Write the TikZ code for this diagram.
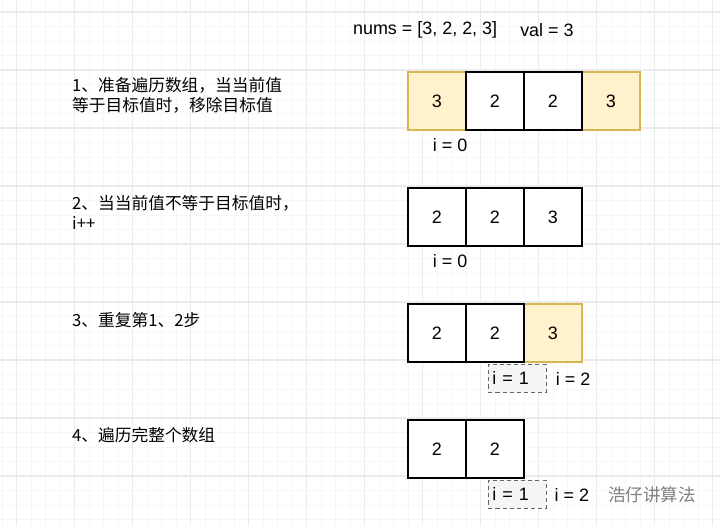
\documentclass[tikz,border=0pt]{standalone}
\usepackage{fontspec}
\setmainfont{Liberation Sans}
\newfontfamily\cjkfont{Noto Sans CJK SC}
\definecolor{cellyellow}{HTML}{FFF2CC}
\definecolor{celledge}{HTML}{D6B656}
\definecolor{ptrfill}{HTML}{F5F5F5}
\definecolor{ptredge}{HTML}{666666}
\definecolor{gridminor}{HTML}{F6F6F6}
\definecolor{gridmajor}{HTML}{EBEBEB}
\definecolor{markgray}{HTML}{808080}
\tikzset{
  % 数组单元格
  cell/.style={draw=black, line width=0.65pt, fill=white, minimum size=1cm,
    inner sep=0pt, outer sep=0pt, font=\fontsize{8.8}{10}\selectfont},
  % 目标值单元格
  target/.style={cell, draw=celledge, fill=cellyellow},
  % 下标
  idx/.style={font=\fontsize{8.8}{10}\selectfont},
  % 旧下标（虚线框）
  oldidx/.style={idx, draw=ptredge, dash pattern=on 2pt off 1.5pt, fill=ptrfill, line width=0.55pt,
    minimum height=0.48cm, text width=0.86cm, inner xsep=0.07cm, align=left},
  % 步骤说明
  stepnote/.style={anchor=west, align=left, font=\cjkfont\fontsize{8.2}{9.8}\selectfont},
}
\begin{document}
\begin{tikzpicture}
    % 背景网格
    \useasboundingbox (0,0) rectangle (12.414,-9.052);
    \fill[white] (0,0) rectangle (12.414,-9.052);
    \begin{scope}
        \clip (0,0) rectangle (12.414,-9.052);
        \draw[gridminor, line width=0.4pt, shift={(0.288,-0.207)}, step=0.25] (-1,-10) grid (13,1);
        \draw[gridmajor, line width=0.5pt, shift={(0.288,-0.207)}, step=1] (-1,-10) grid (13,1);
    \end{scope}

    % 题目
    \node[idx] (nums) at (7.33, -0.517) {nums = [3, 2, 2, 3]};
    \node[idx] (val) at (9.43, -0.517) {val = 3};

    % Step 1
    \begin{scope}[shift={(0, 0)}]
        \node[stepnote] (s1) at (1.12, -1.64) {1、准备遍历数组，当当前值\\等于目标值时，移除目标值};
        \node[target] (a1) at (7.534, -1.741) {3};
        \node[target] (d1) at (10.534, -1.741) {3};
        \node[cell] (b1) at (8.534, -1.741) {2};
        \node[cell] (c1) at (9.534, -1.741) {2};
        \node[idx] (i1) at (7.76, -2.51) {i = 0};
    \end{scope}

    % Step 2
    \begin{scope}[shift={(0, -2)}]
        \node[stepnote] (s2) at (1.12, -1.66) {2、当当前值不等于目标值时，\\i++};
        \node[cell] (a2) at (7.534, -1.741) {2};
        \node[cell] (b2) at (8.534, -1.741) {2};
        \node[cell] (c2) at (9.534, -1.741) {3};
        \node[idx] (i2) at (7.76, -2.51) {i = 0};
    \end{scope}

    % Step 3
    \begin{scope}[shift={(0, -4)}]
        \node[stepnote] (s3) at (1.12, -1.52) {3、重复第1、2步};
        \node[target] (c3) at (9.534, -1.741) {3};
        \node[cell] (a3) at (7.534, -1.741) {2};
        \node[cell] (b3) at (8.534, -1.741) {2};
        \node[oldidx] (p3) at (8.92, -2.52) {i = 1};
        \node[idx] (i3) at (9.88, -2.54) {i = 2};
    \end{scope}

    % Step 4
    \begin{scope}[shift={(0, -6)}]
        \node[stepnote] (s4) at (1.12, -1.5) {4、遍历完整个数组};
        \node[cell] (a4) at (7.534, -1.741) {2};
        \node[cell] (b4) at (8.534, -1.741) {2};
        \node[oldidx] (p4) at (8.92, -2.52) {i = 1};
        \node[idx] (i4) at (9.86, -2.53) {i = 2};
    \end{scope}

    % 水印
    \node[font=\cjkfont\fontsize{8.6}{10}\selectfont, text=markgray] (mark) at (11.24, -8.53) {浩仔讲算法};
\end{tikzpicture}
\end{document}
